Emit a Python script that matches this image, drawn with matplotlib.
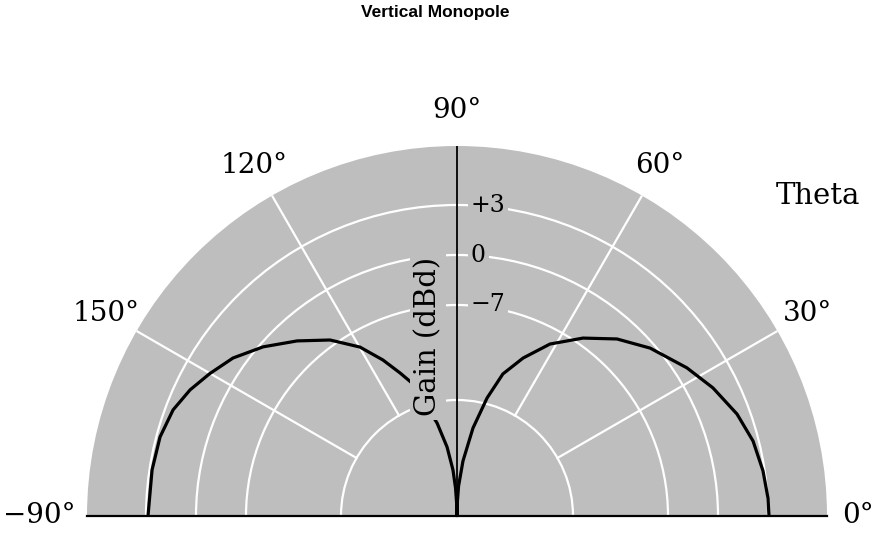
import numpy as np
import matplotlib
matplotlib.use("Agg")
import matplotlib.pyplot as plt
from matplotlib.transforms import offset_copy

# pattern: elevation angle (deg) and plotted radius (chart units, outer edge = 370)
theta_deg = [0, 3.3, 8.4, 14.2, 20.0, 26.6, 32.8, 41.0, 47.9, 54.7, 61.6, 67.3, 72.1,
             75.7, 79.7, 83.8, 87, 89, 90,
             91, 93, 95, 98.2, 102.1, 108.7, 111.7, 115.4, 119.9, 125.8, 132.4, 138.9,
             144.8, 150.1, 154.7, 159.5, 165.1, 171.4, 180]
radius = [312, 311.5, 309.3, 305.4, 298, 286.2, 273.5, 255.9, 238.6, 218, 195.5, 171.2,
          149.3, 121.8, 89.4, 55.3, 30, 12, 0,
          10, 28, 46.2, 69.7, 95.1, 140.4, 153.9, 172.7, 194.9, 217, 237.1, 257.3,
          274.1, 285.4, 295.2, 303.1, 307.3, 308.4, 309]

ring_radius = [116, 211, 261, 311]
ring_labels = ["", "\u22127", "0", "+3"]
spoke_angles = [30, 60, 120, 150]
angle_ticks = [0, 30, 60, 90, 120, 150, 180]
angle_labels = ["0\u00b0", "30\u00b0", "60\u00b0", "90\u00b0", "120\u00b0", "150\u00b0", "\u221290\u00b0"]

R_OUTER = 370
GRAY = "#bebebe"
SERIF = "DejaVu Serif"


def main():
    fig = plt.figure(figsize=(8.86, 5.40), dpi=100)
    # square box, the half disc is centred in it vertically
    cx, cy = 457, 540 - 516
    ax = fig.add_axes([(cx - 370) / 886, (cy + 185 - 370) / 540,
                       740 / 886, 740 / 540], projection="polar")
    ax.set_thetamin(0)
    ax.set_thetamax(180)
    ax.set_rlim(0, R_OUTER)
    ax.set_facecolor(GRAY)

    ax.spines["polar"].set_visible(False)
    ax.spines["inner"].set_visible(False)
    for side in ("start", "end"):
        ax.spines[side].set_color("black")
        ax.spines[side].set_linewidth(1.6)

    # circles
    ax.set_rticks(ring_radius)
    ax.set_yticklabels([])
    ax.yaxis.grid(True, color="white", linewidth=1.6)
    ax.tick_params(axis="y", length=0)

    # spokes start at the inner ring
    ax.set_xticks([])
    ax.xaxis.grid(False)
    for a in spoke_angles:
        ax.plot([np.deg2rad(a)] * 2, [ring_radius[0], R_OUTER], color="white", lw=1.6, zorder=2)

    ax.plot([np.pi / 2] * 2, [0, R_OUTER], color="black", lw=1.3, zorder=4)

    ax.plot(np.deg2rad(theta_deg), radius, color="black", lw=2.3, zorder=3,
            solid_joinstyle="round")

    # ring labels right of the vertical axis
    trans = offset_copy(ax.transData, fig=fig, x=10, y=0, units="points")
    for r, lab in zip(ring_radius, ring_labels):
        if lab:
            ax.text(np.pi / 2, r, lab, transform=trans, ha="left", va="center",
                    fontsize=17, family=SERIF, zorder=5,
                    bbox=dict(facecolor=GRAY, edgecolor="none", pad=2))

    # angle labels
    for a, lab in zip(angle_ticks, angle_labels):
        if a == 0:
            ax.text(0, 385, lab, ha="left", va="center", fontsize=20, family=SERIF,
                    clip_on=False)
        elif a == 180:
            ax.text(np.pi, 381, lab, ha="right", va="center", fontsize=20, family=SERIF,
                    clip_on=False)
        else:
            ax.text(np.deg2rad(a), 405, lab, ha="center", va="center", fontsize=20,
                    family=SERIF, clip_on=False)

    fig.text(818 / 886, 1 - 196 / 540, "Theta", ha="center", va="center",
             fontsize=21, family=SERIF)
    fig.text(428 / 886, 1 - 336 / 540, "Gain (dBd)", rotation=90, ha="center",
             va="center", fontsize=21, family=SERIF, zorder=6,
             bbox=dict(facecolor=GRAY, edgecolor="none", pad=3))
    fig.text(435 / 886, 1 - 13 / 540, "Vertical Monopole", ha="center", va="center",
             fontsize=12.5, fontweight="bold", family="Liberation Sans")

    fig.savefig("out.png", dpi=100, facecolor="white")


if __name__ == "__main__":
    main()
